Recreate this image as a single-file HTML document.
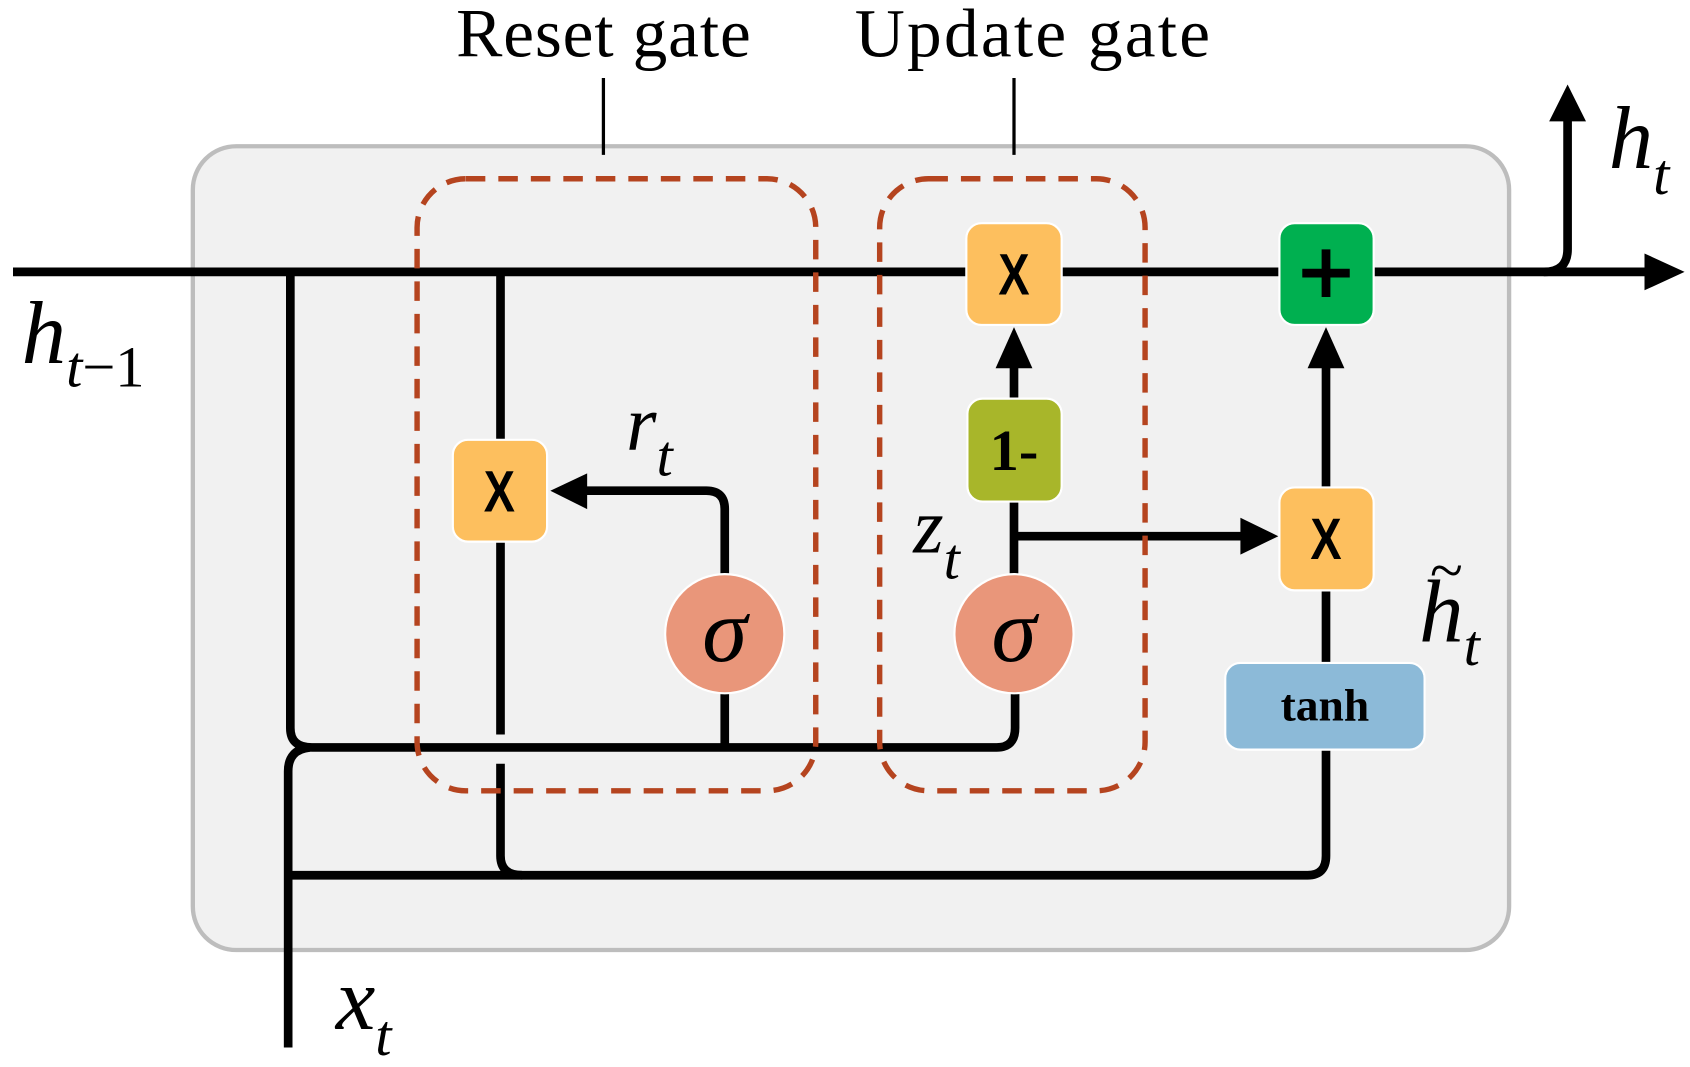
<!DOCTYPE html>
<html><head><style>html,body{margin:0;padding:0;background:#fff}svg{display:block}</style></head><body>
<svg width="1690" height="1067" viewBox="0 0 1560 985" preserveAspectRatio="none" xmlns="http://www.w3.org/2000/svg">
<rect x="178" y="135" width="1215" height="742" rx="40" fill="#f1f1f1" stroke="#bdbdbd" stroke-width="4"/>
<g font-family="Liberation Serif, serif" fill="#000">
<text x="557" y="52" font-size="64" text-anchor="middle" textLength="272">Reset gate</text>
<text x="953" y="52" font-size="64" text-anchor="middle" textLength="328">Update gate</text>
</g>
<g stroke="#000" stroke-width="3" fill="none"><line x1="557" y1="72" x2="557" y2="143"/><line x1="936" y1="72" x2="936" y2="143"/></g>
<g stroke="#000" stroke-width="8" fill="none" stroke-linejoin="round">
<line x1="12" y1="251" x2="1522" y2="251"/>
<path d="M1425 251 Q1447 251 1447 230 L1447 110"/>
<path d="M268 251 L268 672 Q268 690 288 690 L920 690 Q937 690 937 672 L937 640"/>
<line x1="669" y1="640" x2="669" y2="690"/>
<path d="M266 967 L266 712 Q266 692 286 690"/>
<path d="M266 808 L1207 808 Q1224 808 1224 790 L1224 692"/>
<line x1="462" y1="251" x2="462" y2="678"/>
<path d="M462 705 L462 790 Q462 808 482 808"/>
<path d="M669 530 L669 470 Q669 453 652 453 L535 453"/>
<line x1="936" y1="338" x2="936" y2="530"/>
<line x1="936" y1="495" x2="1150" y2="495"/>
<line x1="1224" y1="338" x2="1224" y2="612"/>
</g>
<g fill="#000">
<polygon points="1518,234 1555,251 1518,268"/>
<polygon points="1430,112 1447,78 1464,112"/>
<polygon points="542,437 508,453 542,470"/>
<polygon points="919,340 936,302 953,340"/>
<polygon points="1207,340 1224,302 1241,340"/>
<polygon points="1145,478 1180,495 1145,512"/>
</g>
<g fill="none" stroke="#b5441f" stroke-width="5" stroke-dasharray="18 12">
<rect x="385" y="165" width="368" height="565" rx="45"/>
<rect x="812" y="165" width="245" height="565" rx="45"/>
</g>
<g font-family="Liberation Sans Narrow, Liberation Sans, sans-serif" font-weight="bold" text-anchor="middle">
<rect x="418" y="406" width="87" height="94" rx="14" fill="#fdbf5e" stroke="#fff" stroke-width="2"/>
<text x="461" y="472" font-size="54" transform="translate(461 0) scale(0.8 1) translate(-461 0)">X</text>
<rect x="892" y="206" width="88" height="94" rx="14" fill="#fdbf5e" stroke="#fff" stroke-width="2"/>
<text x="936" y="272" font-size="54" transform="translate(936 0) scale(0.8 1) translate(-936 0)">X</text>
<rect x="1181" y="450" width="87" height="95" rx="14" fill="#fdbf5e" stroke="#fff" stroke-width="2"/>
<text x="1224" y="516" font-size="54" transform="translate(1224 0) scale(0.8 1) translate(-1224 0)">X</text>
<rect x="1181" y="206" width="87" height="94" rx="14" fill="#00b050" stroke="#fff" stroke-width="2"/>
<text x="1224" y="274" font-size="70" font-family="DejaVu Sans, sans-serif">+</text>
<rect x="893" y="368" width="87" height="95" rx="14" fill="#a8b62a" stroke="#fff" stroke-width="2"/>
<text x="936" y="434" font-size="54" font-family="Liberation Serif, serif">1-</text>
<rect x="1131" y="612" width="184" height="80" rx="14" fill="#8cbad8" stroke="#fff" stroke-width="2"/>
<text x="1223" y="665" font-size="42" font-family="Liberation Serif, serif">tanh</text>
</g>
<circle cx="669" cy="585" r="55" fill="#e9967a" stroke="#fff" stroke-width="2"/>
<circle cx="936" cy="585" r="55" fill="#e9967a" stroke="#fff" stroke-width="2"/>
<g font-family="Liberation Serif, serif" font-style="italic" fill="#000">
<text x="669" y="610" font-size="84" text-anchor="middle">σ</text>
<text x="936" y="610" font-size="84" text-anchor="middle">σ</text>
<text x="20" y="335" font-size="82">h<tspan font-size="54" dy="22">t</tspan><tspan font-size="54" font-style="normal">−1</tspan></text>
<text x="1485" y="155" font-size="82">h<tspan font-size="54" dy="24">t</tspan></text>
<text x="578" y="415" font-size="72">r<tspan font-size="54" dy="24">t</tspan></text>
<text x="843" y="510" font-size="72">z<tspan font-size="54" dy="24">t</tspan></text>
<text x="1310" y="592" font-size="82">h<tspan font-size="54" dy="22">t</tspan></text>
<text x="1320" y="545" font-size="56" font-style="normal">~</text>
<text x="310" y="950" font-size="82">x<tspan font-size="54" dy="24">t</tspan></text>
</g>
</svg>
</body></html>
